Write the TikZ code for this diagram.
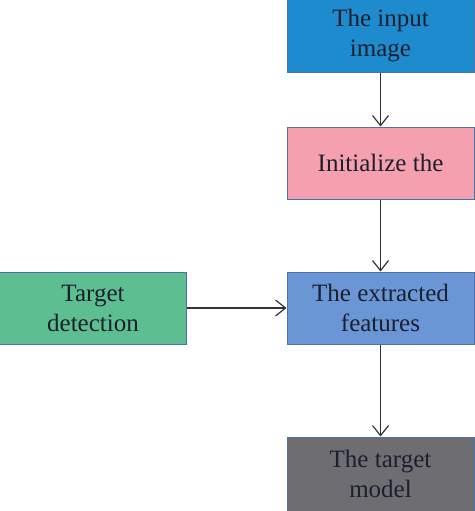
\documentclass[tikz,border=0pt]{standalone}
\usepackage{fontspec}
\setmainfont{Liberation Serif}
\usetikzlibrary{arrows.meta,positioning}
\definecolor{inblue}{HTML}{1E8BCE}
\definecolor{initpink}{HTML}{F4A0AE}
\definecolor{featblue}{HTML}{6B96D6}
\definecolor{detgreen}{HTML}{5DBE91}
\definecolor{modelgray}{HTML}{6E6E72}
\definecolor{edgeblue}{HTML}{4A72B0}
\definecolor{txt}{HTML}{1B1F2E}
\tikzset{
    stagebox/.style={draw=edgeblue, line width=1pt, minimum width=187pt, minimum height=72pt,
        align=center, text=txt, font=\fontsize{25}{30}\selectfont, inner sep=0pt},
    flow/.style={draw=black!80, line width=1.2pt, -{Straight Barb[length=10pt,width=16pt,line width=1.2pt]}}
}

\begin{document}
\begin{tikzpicture}[x=1pt,y=1pt]
\useasboundingbox (0,0) rectangle (474,-511);
% boxes
\node[stagebox, fill=inblue] (input) at (380.5,-36) {The input\\image};
\node[stagebox, fill=initpink] (init) at (380.5,-163) {Initialize the};
\node[stagebox, fill=featblue] (feat) at (380.5,-308) {The extracted\\features};
\node[stagebox, fill=detgreen] (detect) at (93,-308) {Target\\detection};
\node[stagebox, fill=modelgray, minimum height=74pt] (model) at (380.5,-474) {The target\\model};
% arrows
\draw[flow] (input) -- (init);
\draw[flow] (init) -- (feat);
\draw[flow] (detect) -- (feat);
\draw[flow] (feat) -- (model);
\end{tikzpicture}
\end{document}
